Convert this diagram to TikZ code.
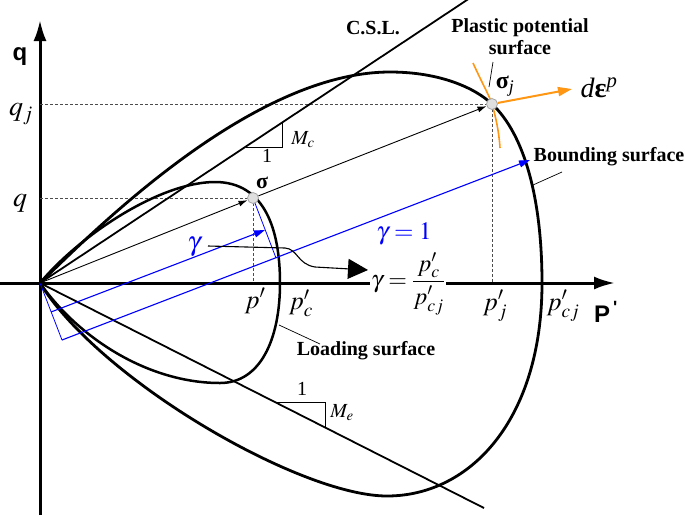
\documentclass[tikz,border=0pt]{standalone}
\usepackage{mathptmx}
\usepackage[no-math]{fontspec}
\setmainfont{Liberation Serif}
\newfontfamily\sansfam{Liberation Sans}
\usetikzlibrary{arrows.meta,calc}
\definecolor{orng}{RGB}{255,150,20}
\definecolor{bl}{RGB}{0,0,255}
\begin{document}
\begin{tikzpicture}[x=1pt,y=-1pt,
  axisline/.style={line width=3pt},
  bnd/.style={line width=2.8pt, line join=round},
  lds/.style={line width=2.5pt, line join=round},
  refline/.style={line width=1.8pt},
  thinline/.style={line width=0.9pt},
  dsh/.style={line width=0.7pt, black!70, dash pattern=on 3pt off 2pt},
  bluel/.style={bl, line width=1.1pt},
  pt/.style={circle, fill=gray!25, draw=gray!70, line width=0.8pt, inner sep=0pt, minimum size=11pt},
  mlab/.style={font=\fontsize{26}{30}\selectfont},
  slab/.style={font=\fontsize{20}{24}\selectfont},
  blab/.style={font=\bfseries\fontsize{20}{24}\selectfont},
  smallarrow/.style={-{Latex[length=9pt,width=6pt]}},
  bluearrow/.style={-{Triangle[length=11pt,width=7pt]}}
]
\useasboundingbox (0,0) rectangle (685,515);

% axes
\coordinate (ybot) at (40,515);
\coordinate (ytop) at (40,20);
\coordinate (xl) at (0,283);
\coordinate (xr) at (615,283);
\draw[axisline,-{Latex[length=21pt,width=13pt]}] (ybot) -- (ytop);
\draw[axisline,-{Latex[length=21pt,width=13pt]}] (xl) -- (xr);

\coordinate (O) at (40,283);

% dashed guide lines
\coordinate (qj) at (40,104);
\coordinate (qq) at (40,198);
\coordinate (pj) at (492,283);
\coordinate (pp) at (253,283);
\draw[dsh] (qj) -- (492,104);
\draw[dsh] (qq) -- (253,198);
\draw[dsh] (492,104) -- (pj);
\draw[dsh] (253,198) -- (pp);

% CSL and Me lines
\coordinate (csl) at (470,-2);
\coordinate (mee) at (484,508);
\draw[refline] (O) -- (csl);
\draw[refline] (O) -- (mee);
\coordinate (tc1) at (246,147);
\coordinate (tc2) at (282,147);
\coordinate (tc3) at (282,123);
\draw[thinline] (tc1) -- (tc2) -- (tc3);
\coordinate (te1) at (277,402);
\coordinate (te2) at (325,402);
\coordinate (te3) at (325,427);
\draw[thinline] (te1) -- (te2) -- (te3);

% bounding surface
\draw[bnd] (O) .. controls (90,235) and (250,72) .. (390,72)
  .. controls (440,72) and (475,88) .. (492,104)
  .. controls (525,135) and (542,200) .. (542,283)
  .. controls (542,420) and (470,496) .. (387,496)
  .. controls (300,496) and (100,380) .. (O);

% loading surface
\draw[lds] (O) .. controls (80,235) and (160,182) .. (215,182)
  .. controls (265,182) and (280,230) .. (280,283)
  .. controls (280,340) and (260,383) .. (220,383)
  .. controls (150,383) and (80,340) .. (O);

% plastic potential (orange)
\draw[orng, line width=1.6pt] (473,63) .. controls (482,83) and (489,95) .. (492,104) .. controls (496,118) and (499,132) .. (500,148);

% blue construction lines
\coordinate (A0) at (51,312);
\coordinate (A1) at (265,230);
\coordinate (B0) at (62,340);
\coordinate (B1) at (530,160);
\coordinate (Bs) at (276,258);
\draw[bluel, line width=0.8pt] (O) -- (B0);
\draw[bluel, line width=0.8pt] (253,198) -- (Bs);
\draw[bluel, bluearrow] (A0) -- (A1);
\draw[bluel, bluearrow] (B0) -- (B1);

% stress points
\node[pt] (S) at (253,198) {};
\node[pt] (Sj) at (492,104) {};
\draw[thinline, smallarrow] (O) -- (S);
\draw[thinline, smallarrow] (S) -- (Sj);

% plastic strain increment
\coordinate (de) at (572,89);
\draw[orng, line width=2pt, -{Triangle[length=14pt,width=9pt]}] (Sj) -- (de);

% leader lines
\coordinate (l1a) at (493,62);
\coordinate (l1b) at (489,87);
\draw[line width=0.7pt] (l1a) -- (l1b);
\coordinate (l2a) at (562,172);
\coordinate (l2b) at (533,185);
\draw[line width=0.7pt] (l2a) -- (l2b);
\coordinate (l3a) at (320,344);
\coordinate (l3b) at (279,325);
\draw[line width=0.7pt] (l3a) -- (l3b);

% labels
\node[font=\sansfam\bfseries\fontsize{24}{28}\selectfont] (qax) at (20,57) {q};
\node[font=\sansfam\bfseries\fontsize{24}{28}\selectfont] (pax) at (606,312) {P\textsuperscript{\,'}};
\node[font=\fontsize{28}{32}\selectfont] (lqj) at (21,114) {$q_j$};
\node[font=\fontsize{28}{32}\selectfont] (lq) at (20,203) {$q$};
\node[mlab] (lp) at (255,301) {$p'$};
\node[mlab] (lpc) at (301,303) {$p'_c$};
\node[mlab] (lpj) at (495,306) {$p'_j$};
\node[mlab] (lpcj) at (563,306) {$p'_{cj}$};

\node[blab] (csltxt) at (373,28) {C.S.L.};
\node[blab, align=center] (pps) at (520,37) {Plastic potential\\[-2pt]surface};
\node[blab] (bstxt) at (609,157) {Bounding surface};
\node[blab] (lstxt) at (366,351) {Loading surface};

\node[slab] (mc) at (303,140) {$M_c$};
\node[slab] (onec) at (267,156) {1};
\node[slab] (me) at (342,413) {$M_e$};
\node[slab] (onee) at (302,389) {1};

\node[font=\bfseries\fontsize{22}{26}\selectfont] (sig) at (262,183) {σ};
\node[font=\fontsize{24}{28}\selectfont] (sigj) at (505,86) {\textbf{σ}\textsubscript{\textit{j}}};
\node[font=\fontsize{28}{32}\selectfont] (dep) at (599,88) {\textit{d}\textbf{ε}\textsuperscript{\textit{p}}};

\node[bl, font=\fontsize{25}{29}\selectfont] (gam1) at (404,234) {$\gamma=1$};
\node[bl, font=\fontsize{27}{31}\selectfont] (glab) at (194,247) {$\gamma$};

\node[fill=white, inner sep=1pt, font=\fontsize{24}{28}\selectfont] (frac) at (408,284) {$\displaystyle\gamma=\frac{p'_c}{p'_{cj}}$};
\coordinate (ftip) at (368,270);
\coordinate (gstart) at (208,246);
\draw[line width=1.1pt, -{Triangle[length=20pt,width=20pt]}] (gstart) -- (285,248) .. controls (298,249) and (297,264) .. (315,267) -- (ftip);
\end{tikzpicture}
\end{document}
